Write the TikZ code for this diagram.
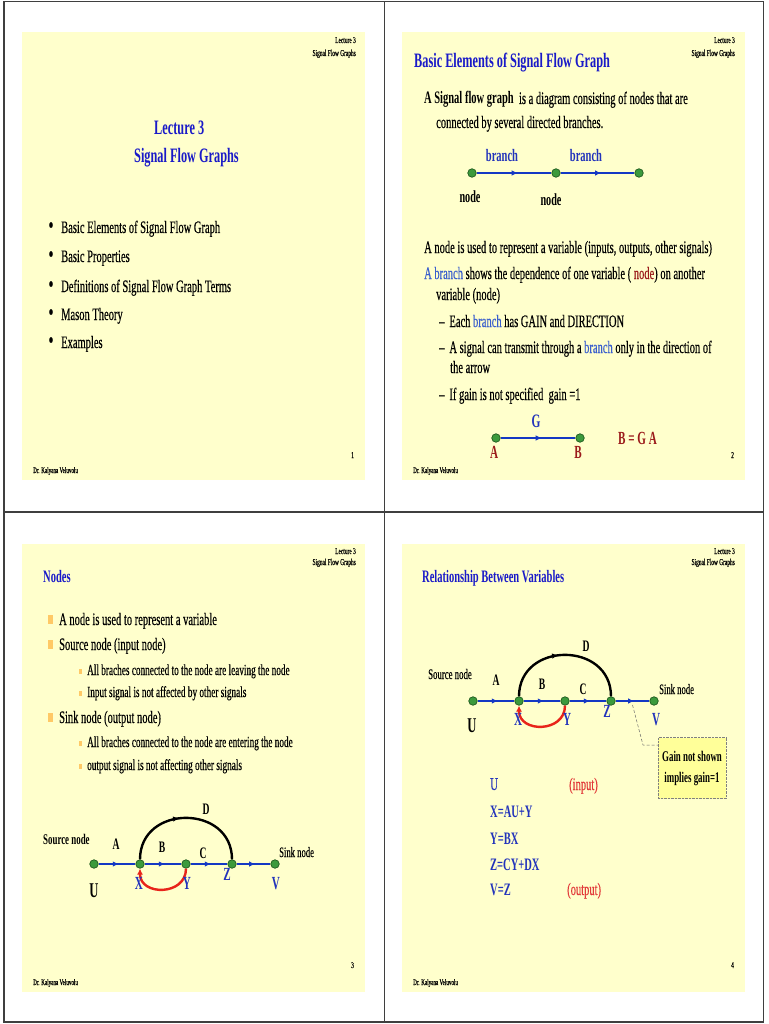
\documentclass[tikz,border=0pt]{standalone}
\usepackage{fontspec}
\setmainfont{Liberation Serif}[FakeStretch=0.6, UprightFeatures={FakeBold=0.35}]
\usetikzlibrary{
  arrows.meta,
  decorations.markings,
  calc
}
\definecolor{sfPaper}{HTML}{FFFFCC}
\definecolor{sfFrame}{HTML}{3F3F3F}
\definecolor{sfTitle}{HTML}{1A1AC8}
\definecolor{sfLine}{HTML}{1438C4}
\definecolor{sfLabel}{HTML}{2233BB}
\definecolor{sfLink}{HTML}{3A5FCD}
\definecolor{sfDark}{HTML}{9B1B1B}
\definecolor{sfArc}{HTML}{E8241A}
\definecolor{sfNote}{HTML}{E23A3A}
\definecolor{sfGreen}{HTML}{3C9A3C}
\definecolor{sfGreenD}{HTML}{1E5A1E}
\definecolor{sfBullet}{HTML}{FFC966}
\definecolor{sfCallout}{HTML}{FFFF99}
\tikzset{
  slide/.style={fill=sfPaper, draw=none},
  hdr/.style={font=\fontsize{9}{10}\selectfont, anchor=base east, inner sep=0pt},
  foot/.style={font=\fontsize{8.5}{10}\selectfont, anchor=base west, inner sep=0pt},
  pgno/.style={font=\fontsize{9}{10}\selectfont, anchor=base west, inner sep=0pt},
  ttl/.style={font=\fontsize{20.5}{24}\selectfont\bfseries, text=sfTitle, anchor=base west, inner sep=0pt},
  subttl/.style={font=\fontsize{17.5}{20}\selectfont\bfseries, text=sfTitle, anchor=base west, inner sep=0pt},
  body/.style={font=\fontsize{17.5}{20}\selectfont, anchor=base west, inner sep=0pt},
  dotbullet/.style={font=\fontsize{24}{24}\selectfont, anchor=base, inner sep=0pt},
  small/.style={font=\fontsize{15.4}{18}\selectfont, anchor=base west, inner sep=0pt},
  sqbullet/.style={fill=sfBullet, inner sep=0pt, minimum width=5.5pt, minimum height=8.5pt},
  sqsub/.style={fill=sfBullet, inner sep=0pt, minimum width=2.7pt, minimum height=4.5pt},
  sfnode/.style={circle, draw=sfGreenD, fill=sfGreen, line width=0.7pt, inner sep=0pt, minimum size=8.5pt},
  branch/.style={draw=sfLine, line width=2.7pt, postaction={decorate},
    decoration={markings, mark=at position 0.55 with {\arrow[color=sfLine]{Latex[length=6pt,width=5.5pt]}}}},
  pathlbl/.style={font=\fontsize{17.5}{20}\selectfont\bfseries, text=sfLabel, anchor=base, inner sep=0pt},
  wordlbl/.style={font=\fontsize{17}{20}\selectfont\bfseries, anchor=base, inner sep=0pt},
  gainlbl/.style={font=\fontsize{16}{18}\selectfont\bfseries, anchor=base, inner sep=0pt},
  varlbl/.style={font=\fontsize{18.5}{20}\selectfont\bfseries, text=sfLabel, anchor=base, inner sep=0pt},
  srclbl/.style={font=\fontsize{21}{22}\selectfont\bfseries, anchor=base, inner sep=0pt},
  darklbl/.style={font=\fontsize{18.5}{20}\selectfont\bfseries, text=sfDark, anchor=base, inner sep=0pt},
  sidelbl/.style={font=\fontsize{14.4}{18}\selectfont, anchor=base west, inner sep=0pt},
  forward/.style={draw=black, line width=2.4pt, postaction={decorate},
    decoration={markings, mark=at position 0.45 with {\arrow{Latex[length=6pt,width=5.5pt]}}}},
  feedback/.style={draw=sfArc, line width=2.4pt, -{Latex[length=6pt,width=6pt]}},
  callout/.style={draw=gray, densely dotted, fill=sfCallout, minimum width=68pt, minimum height=61pt,
    align=center, font=\fontsize{14.8}{21}\selectfont\bfseries, inner sep=0pt},
  leader/.style={draw=gray!80!black, densely dashed, line width=0.5pt},
  eqn/.style={font=\fontsize{17.5}{20}\selectfont\bfseries, text=sfLabel, anchor=base west, inner sep=0pt},
  eqnote/.style={font=\fontsize{17.5}{20}\selectfont, text=sfNote, anchor=base west, inner sep=0pt}
}

\begin{document}
\begin{tikzpicture}[x=1pt, y=-1pt]
  \useasboundingbox (0,0) rectangle (768,1024);
  % page frame and slide papers
  \fill[white] (0,0) rectangle (768,1024);
  \fill[slide] (22,32) rectangle (365,480);
  \fill[slide] (402,32) rectangle (745,480);
  \fill[slide] (22,544) rectangle (365,992);
  \fill[slide] (402,544) rectangle (745,992);
  \draw[sfFrame, line width=1.6pt] (4,1.5) rectangle (763.5,1021.8);
  \draw[sfFrame, line width=1.6pt] (384.3,1.5) -- (384.3,1021.8);
  \draw[sfFrame, line width=1.6pt] (4,512) -- (763.5,512);

  % slide 1
  \node[hdr] (h1a) at (356,43) {Lecture 3};
  \node[hdr] (h1b) at (356,56) {Signal Flow Graphs};
  \node[ttl] (lect) at (154,135) {Lecture 3};
  \node[ttl] (sfg) at (134,163) {Signal Flow Graphs};
  \node[dotbullet] (b1) at (51,233) {\textbullet};
  \node[body] (i1) at (61,233) {Basic Elements of Signal Flow Graph};
  \node[dotbullet] (b2) at (51,262) {\textbullet};
  \node[body] (i2) at (61,262) {Basic Properties};
  \node[dotbullet] (b3) at (51,292) {\textbullet};
  \node[body] (i3) at (61,292) {Definitions of Signal Flow Graph Terms};
  \node[dotbullet] (b4) at (51,320) {\textbullet};
  \node[body] (i4) at (61,320) {Mason Theory};
  \node[dotbullet] (b5) at (51,348) {\textbullet};
  \node[body] (i5) at (61,348) {Examples};
  \node[pgno] (p1) at (351,458) {1};
  \node[foot] (f1) at (33,473) {Dr. Kalyana Veluvolu};

  % slide 2
  \node[hdr] (h2a) at (735,43) {Lecture 3};
  \node[hdr] (h2b) at (735,56) {Signal Flow Graphs};
  \node[ttl] (basic) at (414,68) {Basic Elements of Signal Flow Graph};
  \node[body] (def1) at (424,104) {\textbf{A Signal flow graph}\ \ is a diagram consisting of nodes that are};
  \node[body] (def2) at (436,128) {connected by several directed branches.};
  \node[sfnode] (n1) at (472,173) {};
  \node[sfnode] (n2) at (556,173) {};
  \node[sfnode] (n3) at (639,173) {};
  \draw[branch] (n1) -- (n2);
  \draw[branch] (n2) -- (n3);
  \node[pathlbl] (br1) at (502,162) {branch};
  \node[pathlbl] (br2) at (586,162) {branch};
  \node[wordlbl] (nd1) at (470,203) {node};
  \node[wordlbl] (nd2) at (551,206) {node};
  \node[body] (use) at (424,253) {A node is used to represent a variable (inputs, outputs, other signals)};
  \node[body] (dep1) at (424,279) {\textcolor{sfLink}{A branch} shows the dependence of one variable ( \textcolor{sfDark}{node}) on another};
  \node[body] (dep2) at (436,300) {variable (node)};
  \node[body] (gain) at (439,327) {–\hspace{5pt}Each \textcolor{sfLink}{branch} has GAIN and DIRECTION};
  \node[body] (dir1) at (439,353) {–\hspace{5pt}A signal can transmit through a \textcolor{sfLink}{branch} only in the direction of};
  \node[body] (dir2) at (450,373) {the arrow};
  \node[body] (unity) at (439,400) {–\hspace{5pt}If gain is not specified\ \ gain =1};
  \node[sfnode] (nA) at (496,438) {};
  \node[sfnode] (nB) at (580,438) {};
  \draw[branch] (nA) -- (nB);
  \node[pathlbl, font=\fontsize{19}{20}\selectfont\bfseries] (G) at (536,427) {G};
  \node[darklbl] (lA) at (494,458) {A};
  \node[darklbl] (lB) at (578,458) {B};
  \node[darklbl, anchor=base west] (BGA) at (618,444) {B = G A};
  \node[pgno] (p2) at (731,458) {2};
  \node[foot] (f2) at (413,473) {Dr. Kalyana Veluvolu};

  % slide 3
  \node[hdr] (h3a) at (356,554) {Lecture 3};
  \node[hdr] (h3b) at (356,565) {Signal Flow Graphs};
  \node[subttl] (nodes) at (43,582) {Nodes};
  \node[sqbullet] (s1) at (50.5,619.5) {};
  \node[body] (t1) at (59,625) {A node is used to represent a variable};
  \node[sqbullet] (s2) at (50.5,644.5) {};
  \node[body] (t2) at (59,650) {Source node (input node)};
  \node[sqsub] (s21) at (80.7,671.5) {};
  \node[small] (t21) at (87,675) {All braches connected to the node are leaving the node};
  \node[sqsub] (s22) at (80.7,693.5) {};
  \node[small] (t22) at (87,697) {Input signal is not affected by other signals};
  \node[sqbullet] (s3) at (50.5,717.5) {};
  \node[body] (t3) at (59,723) {Sink node (output node)};
  \node[sqsub] (s31) at (80.7,743.5) {};
  \node[small] (t31) at (87,747) {All braches connected to the node are entering the node};
  \node[sqsub] (s32) at (80.7,766.5) {};
  \node[small] (t32) at (87,770) {output signal is not affecting other signals};
  \node[sfnode] (U3) at (94,864) {};
  \node[sfnode] (X3) at (140,864) {};
  \node[sfnode] (Y3) at (186,864) {};
  \node[sfnode] (Z3) at (232,864) {};
  \node[sfnode] (V3) at (275,864) {};
  \draw[branch] (U3) -- (X3);
  \draw[branch] (X3) -- (Y3);
  \draw[branch] (Y3) -- (Z3);
  \draw[branch] (Z3) -- (V3);
  \draw[forward] (X3) .. controls +(0,-60) and +(0,-60) .. (Z3);
  \draw[feedback] (Y3) .. controls +(0,32) and +(0,32) .. (X3);
  \node[sidelbl, font=\fontsize{14.8}{18}\selectfont\bfseries] (src3) at (43,844) {Source node};
  \node[gainlbl] (gA3) at (116,849) {A};
  \node[gainlbl] (gB3) at (162,852) {B};
  \node[gainlbl] (gC3) at (203,858) {C};
  \node[gainlbl] (gD3) at (206,814) {D};
  \node[sidelbl] (snk3) at (279,857) {Sink node};
  \node[srclbl] (lU3) at (94,897) {U};
  \node[varlbl] (lX3) at (139,889) {X};
  \node[varlbl] (lY3) at (187,889) {Y};
  \node[varlbl] (lZ3) at (227,880) {Z};
  \node[varlbl] (lV3) at (276,889) {V};
  \node[pgno] (p3) at (351,968) {3};
  \node[foot] (f3) at (33,985) {Dr. Kalyana Veluvolu};

  % slide 4
  \node[hdr] (h4a) at (735,554) {Lecture 3};
  \node[hdr] (h4b) at (735,565) {Signal Flow Graphs};
  \node[subttl] (rel) at (422,582) {Relationship Between Variables};
  \node[sfnode] (U4) at (473,701) {};
  \node[sfnode] (X4) at (519,701) {};
  \node[sfnode] (Y4) at (565,701) {};
  \node[sfnode] (Z4) at (611,701) {};
  \node[sfnode] (V4) at (654,701) {};
  \draw[branch] (U4) -- (X4);
  \draw[branch] (X4) -- (Y4);
  \draw[branch] (Y4) -- (Z4);
  \draw[branch] (Z4) -- (V4);
  \draw[forward] (X4) .. controls +(0,-60) and +(0,-60) .. (Z4);
  \draw[feedback] (Y4) .. controls +(0,32) and +(0,32) .. (X4);
  \node[sidelbl, font=\fontsize{14.6}{18}\selectfont] (src4) at (428,679) {Source node};
  \node[gainlbl] (gA4) at (496,685) {A};
  \node[gainlbl] (gB4) at (542,689) {B};
  \node[gainlbl] (gC4) at (583,694) {C};
  \node[gainlbl] (gD4) at (586,651) {D};
  \node[sidelbl] (snk4) at (659,694) {Sink node};
  \node[srclbl] (lU4) at (472,732) {U};
  \node[varlbl] (lX4) at (518,725) {X};
  \node[varlbl] (lY4) at (567,725) {Y};
  \node[varlbl] (lZ4) at (607,717) {Z};
  \node[varlbl] (lV4) at (656,725) {V};
  \node[callout] (note) at (692,768) {Gain not shown\\implies gain=1};
  \coordinate (gainpt) at ($(Z4)!0.5!(V4)+(0,4)$);
  \coordinate (bend) at (643,745);
  \draw[leader] (gainpt) -- (bend) -- (bend -| note.west);
  \node[eqn, font=\fontsize{18}{20}\selectfont] (eU) at (490,790) {U};
  \node[eqnote] (inp) at (569,790) {(input)};
  \node[eqn] (eX) at (490,817) {X=AU+Y};
  \node[eqn] (eY) at (490,844) {Y=BX};
  \node[eqn] (eZ) at (490,870) {Z=CY+DX};
  \node[eqn] (eV) at (490,895) {V=Z};
  \node[eqnote] (outp) at (567,895) {(output)};
  \node[pgno] (p4) at (731,968) {4};
  \node[foot] (f4) at (413,985) {Dr. Kalyana Veluvolu};
\end{tikzpicture}
\end{document}
